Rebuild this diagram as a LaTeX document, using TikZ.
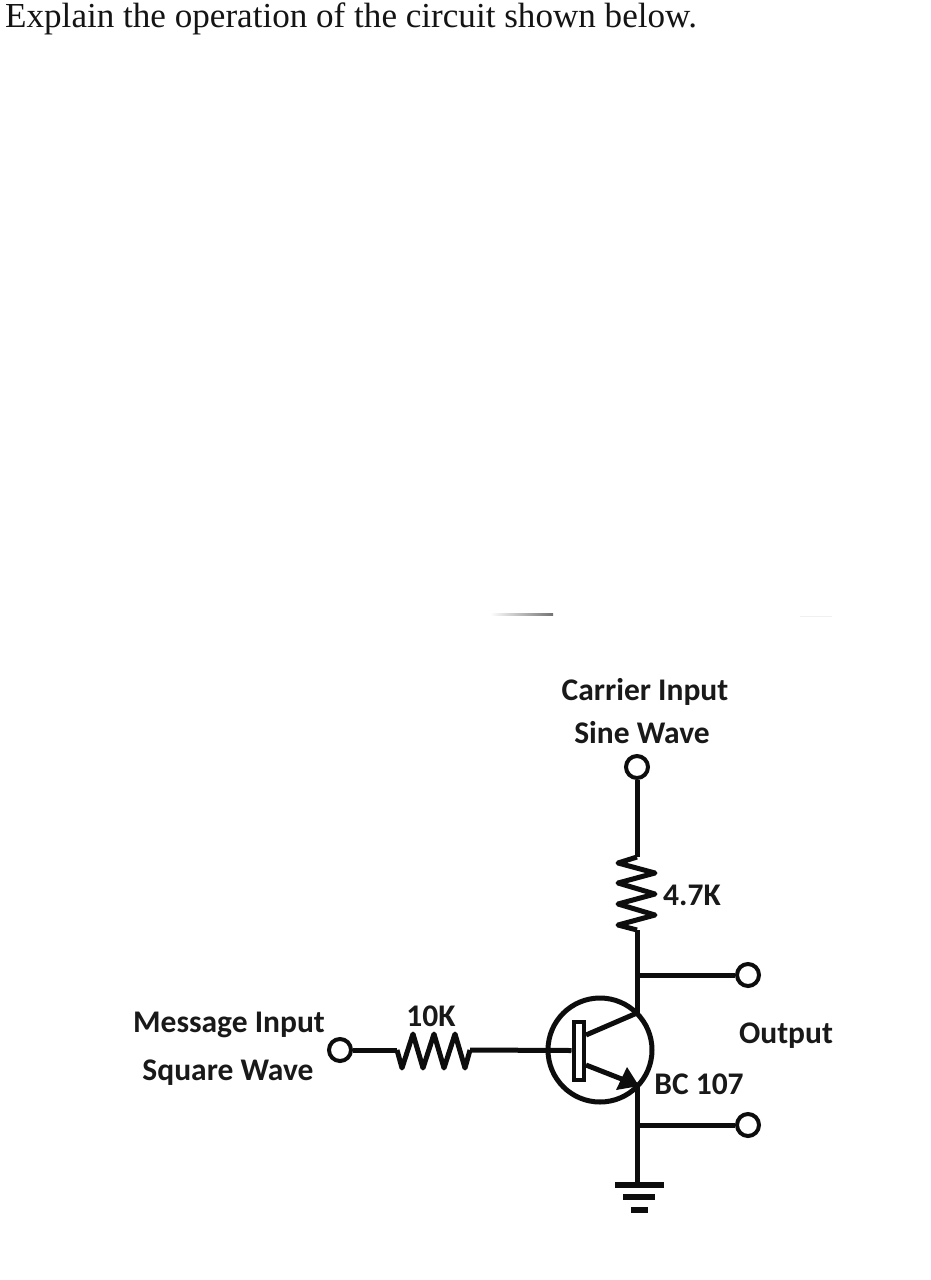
\documentclass[tikz,border=0pt]{standalone}
\usepackage{fontspec}
\setmainfont{Liberation Serif}
\newfontfamily\lblfont{Carlito}[BoldFont={Carlito Bold}]
\usetikzlibrary{arrows.meta,calc}
\tikzset{
  wire/.style={line width=5pt,line join=round,black!95},
  term/.style={circle,draw=black!95,line width=4pt,fill=white,minimum size=22pt,inner sep=0pt},
  lbl/.style={inner sep=0pt,font=\lblfont\bfseries\fontsize{31.5}{31.5}\selectfont,text=black!90},
  gbar/.style={line width=6pt,black!95}
}
\begin{document}
\begin{tikzpicture}[x=1pt,y=-1pt]
\useasboundingbox (0,0) rectangle (930,1280);
\fill[white] (0,0) rectangle (930,1280);
% title
\node[anchor=base west,inner sep=0pt,font=\fontsize{35.1}{35.1}\selectfont,text=black!92] (title) at (5,27) {Explain the operation of the circuit shown below.};
% faint scan marks
\shade[left color=white,right color=black!55] (490,613.5) rectangle (553,615.5);
\fill[black!6] (800,615.5) rectangle (832,616.5);
% terminals
\node[term] (tc) at (637,767) {};
\node[term] (tm) at (340,1050) {};
\node[term] (to1) at (748,975) {};
\node[term] (to2) at (748,1125) {};
% junctions
\coordinate (r1a) at (637,857);
\coordinate (r1b) at (637,930);
\coordinate (j1) at (637,975);
\coordinate (cc) at (637,1013);
\coordinate (ee) at (637,1085);
\coordinate (j2) at (637,1125);
\coordinate (gnd) at (637,1185);
\coordinate (r2a) at (397,1050);
\coordinate (r2b) at (470,1050);
\coordinate (bc) at (586,1035);
\coordinate (be) at (586,1065);
% transistor
\node[circle,draw=black!95,line width=5pt,minimum size=104pt,inner sep=0pt] (q) at (600,1050) {};
\node[draw=black!95,line width=4pt,fill=white,minimum width=10pt,minimum height=58pt,inner sep=0pt] (bar) at (578.5,1050.5) {};
% wires
\draw[wire] (tc) -- (r1a);
\draw[wire] (r1a) -- (618,863) -- (655,873) -- (618,883) -- (655,894) -- (618,904) -- (655,915) -- (618,925) -- (r1b);
\draw[wire] (r1b) -- (cc);
\draw[wire] (j1) -- (to1);
\draw[wire] (tm) -- (r2a);
\draw[wire] (r2a) -- (402,1068) -- (413,1034) -- (423,1068) -- (434,1034) -- (444,1068) -- (455,1034) -- (465,1068) -- (r2b);
\draw[wire] (r2b) -- (bar.west);
\draw[wire] (bc) -- (cc);
\draw[wire] (be) -- (ee);
\fill[black!95] (639,1086) -- (616,1090) -- (627,1067) -- cycle;
\draw[wire] (ee) -- (gnd);
\draw[wire] (j2) -- (to2);
% ground
\draw[gbar] ($(gnd)+(-22,0)$) -- ($(gnd)+(27,0)$);
\draw[gbar] ($(gnd)+(-14,12)$) -- ($(gnd)+(18,12)$);
\draw[gbar] ($(gnd)+(-6,25)$) -- ($(gnd)+(11,25)$);
% labels
\node[lbl] (l1) at (645,692) {Carrier Input};
\node[lbl] (l2) at (642,733) {Sine Wave};
\node[lbl] (l3) at (692,895) {4.7K};
\node[lbl] (l4) at (786,1036) {Output};
\node[lbl] (l5) at (699,1084) {BC 107};
\node[lbl] (l6) at (229,1025) {Message Input};
\node[lbl] (l7) at (228,1073) {Square Wave};
\node[lbl] (l8) at (431,1016) {10K};
\end{tikzpicture}
\end{document}
